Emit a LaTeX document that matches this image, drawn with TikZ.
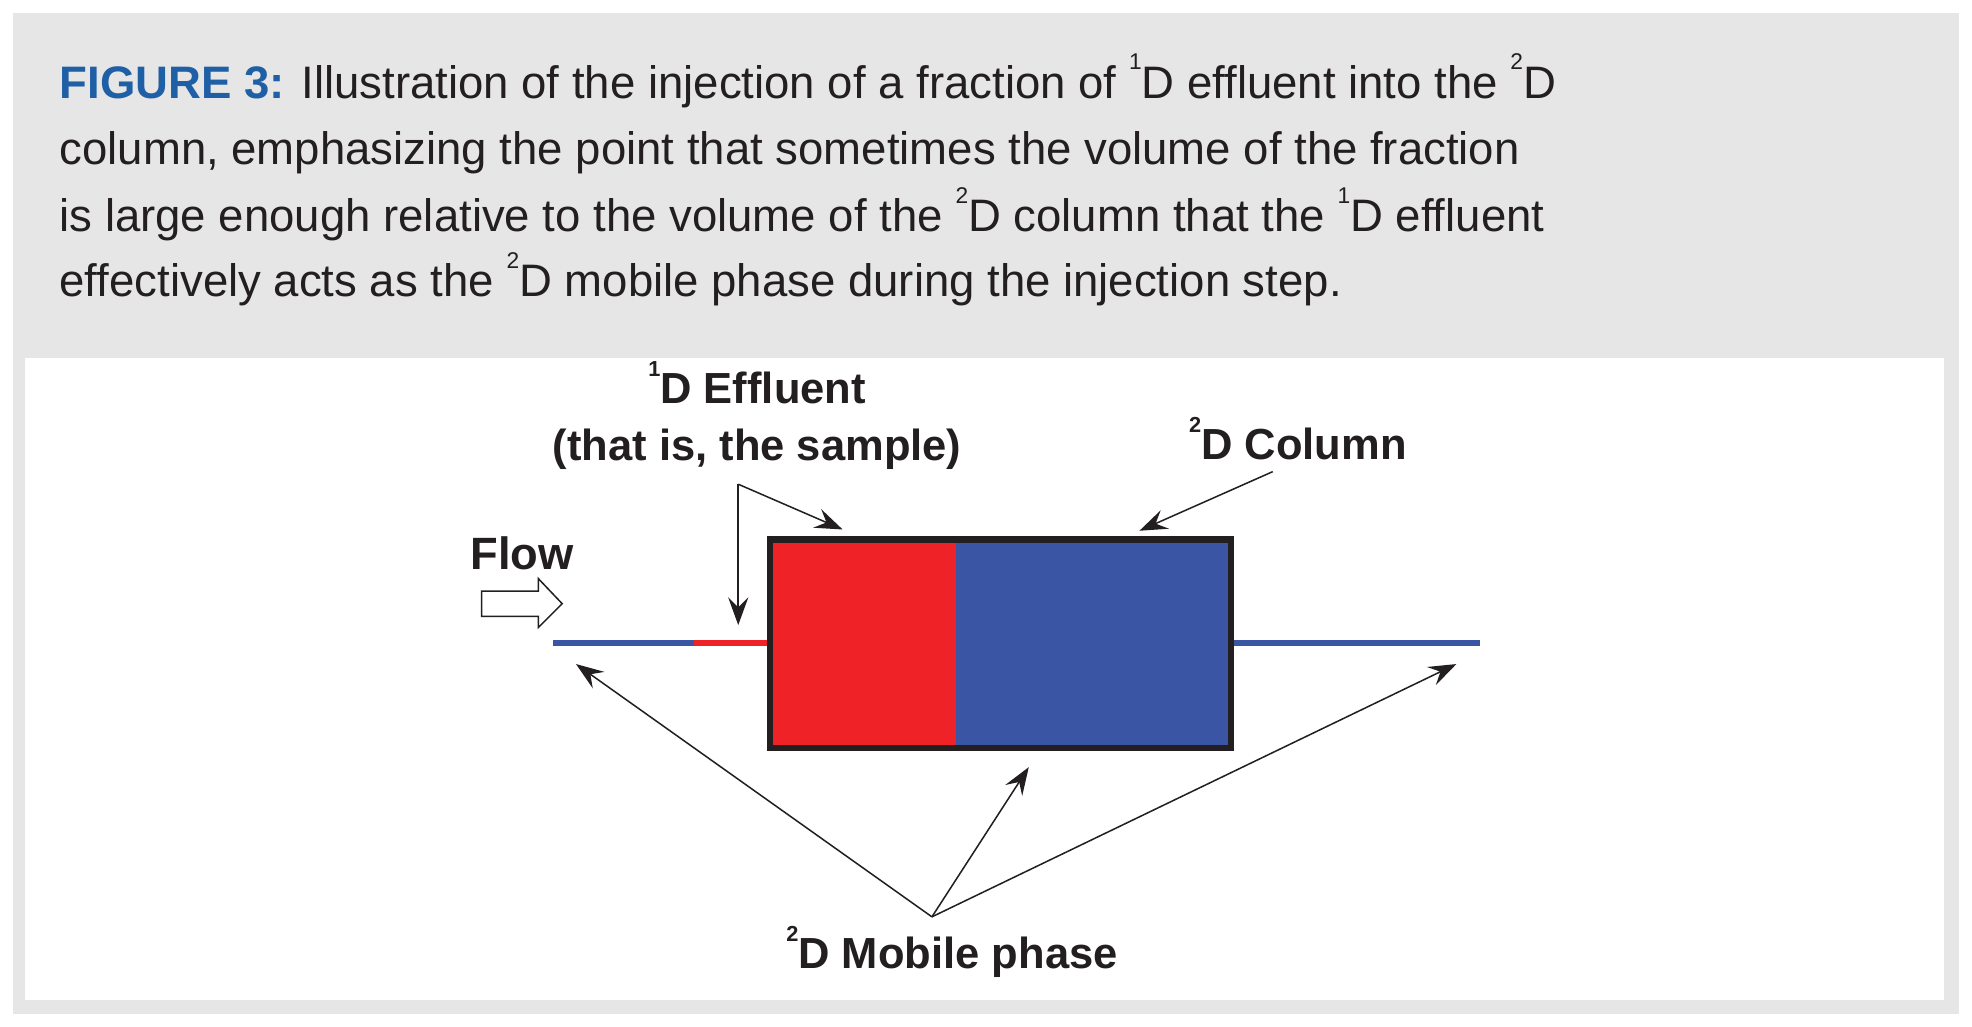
\documentclass[tikz,border=0pt]{standalone}
\usepackage{fontspec}
\setmainfont{Liberation Sans}
\usetikzlibrary{arrows.meta}
\definecolor{bgray}{HTML}{E6E6E6}
\definecolor{figblue}{HTML}{1F5FA6}
\definecolor{colred}{HTML}{EE2227}
\definecolor{colblue}{HTML}{3A55A4}
\definecolor{txt}{HTML}{231F20}
\newcommand{\supr}[1]{\raisebox{0.62em}{\fontsize{0.5em}{0.5em}\selectfont #1}}
\tikzset{
  captext/.style={anchor=base west,inner sep=0pt,font=\fontsize{18.1}{22}\selectfont,text=txt},
  lbl/.style={anchor=base,inner sep=0pt,font=\fontsize{17.3}{20}\selectfont\bfseries,text=txt},
  pointer/.style={draw=txt,line width=0.6pt,-{Stealth[length=11pt,width=8pt,inset=4pt]}}
}
\begin{document}
\begin{tikzpicture}[x=0.5pt,y=-0.5pt]
\useasboundingbox (0,0) rectangle (1568,816);
\fill[white] (0,0) rectangle (1568,816);
\fill[bgray] (10,10) rectangle (1558,806);
\fill[white] (20,285) rectangle (1546,795);
% caption
\node[captext] (c1) at (47,78) {\textcolor{figblue}{\bfseries FIGURE 3:} Illustration of the injection of a fraction of \supr{1}D effluent into the \supr{2}D};
\node[captext] (c2) at (47,131) {column, emphasizing the point that sometimes the volume of the fraction};
\node[captext] (c3) at (47,184) {is large enough relative to the volume of the \supr{2}D column that the \supr{1}D effluent};
\node[captext] (c4) at (47,236) {effectively acts as the \supr{2}D mobile phase during the injection step.};
% lines
\draw[colblue,line width=2.5pt] (440,511) -- (552,511);
\draw[colred,line width=2.5pt] (552,511) -- (612,511);
\draw[colblue,line width=2.5pt] (979,511) -- (1177,511);
% column
\fill[colred] (612,429) rectangle (760,595);
\fill[colblue] (760,429) rectangle (979,595);
\node[draw=txt,line width=2.5pt,minimum width=183.5pt,minimum height=83pt,inner sep=0pt] (col) at (795.5,512) {};
% flow
\node[lbl,font=\fontsize{18}{20}\selectfont\bfseries] (flow) at (415,453) {Flow};
\draw[txt,line width=0.6pt,fill=white] (383,470) -- (428,470) -- (428,460) -- (447,480) -- (428,499) -- (428,490) -- (383,490) -- cycle;
% labels
\node[lbl] (eff1) at (602,321) {\supr{1}D Effluent};
\node[lbl] (eff2) at (602,366) {(that is, the sample)};
\node[lbl] (colt) at (1032,365) {\supr{2}D Column};
\node[lbl] (mob) at (757,770) {\supr{2}D Mobile phase};
% pointers
\coordinate (corner) at (587,385);
\coordinate (effa) at (587,497);
\coordinate (effb) at (670,421);
\draw[pointer] (corner) -- (effa);
\draw[pointer] (corner) -- (effb);
\coordinate (cols) at (1012,375);
\coordinate (cole) at (906,422);
\draw[pointer] (cols) -- (cole);
\coordinate (apex) at (741,729);
\coordinate (m1) at (458,528);
\coordinate (m2) at (818,610);
\coordinate (m3) at (1158,528);
\draw[pointer] (apex) -- (m1);
\draw[pointer] (apex) -- (m2);
\draw[pointer] (apex) -- (m3);
\end{tikzpicture}
\end{document}
